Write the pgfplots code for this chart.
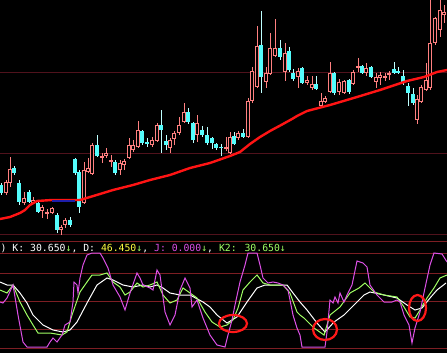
\documentclass[border=0pt]{standalone}
\usepackage{fontspec}
\usepackage{pgfplots}
\pgfplotsset{compat=1.18}
\usepackage{pgfplotstable}
\newfontfamily\kmono{DejaVu Sans Mono}
\definecolor{upc}{RGB}{255,128,128}
\definecolor{dnc}{RGB}{84,252,252}
\definecolor{dnw}{RGB}{190,255,255}
\definecolor{gridA}{RGB}{80,18,28}
\definecolor{gridB}{RGB}{125,30,35}
\definecolor{jcol}{RGB}{220,80,230}
\definecolor{kcol}{RGB}{160,255,100}
\definecolor{macol}{RGB}{255,20,20}
\definecolor{mablue}{RGB}{30,30,170}
\definecolor{txty}{RGB}{255,255,64}

% candles in pixel units: t/b body top/bottom, h/l wick top/bottom
\pgfplotstableread{
x t b h l
6 182 193 180 195
10 169 183 157 187
24 198 203 192 205
33 200 203 197 204
42 207 211 205 218
47 212 214 209 219
52 208 213 207 214
61 227 230 225 235
65 220 225 218 228
84 170 203 162 204
88 168 172 158 173
92 145 174 143 175
102 156 158 153 163
106 153 156 148 158
111 160 162 155 167
120 163 170 160 175
124 161 165 159 170
129 145 158 138 159
133 145 150 140 152
138 130 147 121 148
152 140 145 137 147
157 125 141 123 142
170 140 148 138 153
174 133 139 131 145
179 125 133 117 135
184 112 122 103 123
197 123 135 115 142
226 147 149 137 151
230 137 153 132 154
238 133 138 131 140
248 101 137 98 138
252 71 101 67 103
257 46 87 26 88
266 73 82 67 88
270 48 74 33 75
275 48 56 19 57
285 53 72 43 81
298 71 77 68 88
307 80 83 76 85
312 84 88 76 90
321 101 106 93 107
325 98 102 96 103
330 73 92 62 93
339 82 92 79 95
344 81 93 80 94
353 72 84 70 85
358 66 68 58 72
366 68 73 63 76
376 77 82 73 88
380 75 78 72 85
385 76 78 73 81
389 73 75 71 80
417 99 120 95 124
421 87 102 85 103
426 80 90 63 91
430 43 88 0 90
435 18 43 17 45
440 10 30 0 37
444 12 15 5 23
}\uptab

\pgfplotstableread{
x t b h l
1 185 193 183 195
14 168 173 166 175
19 183 202 180 205
29 192 202 190 203
38 203 212 202 213
57 215 230 213 233
70 220 225 217 227
75 159 173 158 175
79 172 207 170 213
97 145 156 135 157
115 162 173 160 175
142 131 143 130 145
147 142 144 138 147
161 125 130 110 153
166 141 145 135 150
188 112 122 108 124
193 123 140 122 143
202 130 135 126 137
207 135 143 127 145
212 138 143 137 149
216 144 148 143 150
221 147 148 144 156
234 136 144 132 145
243 133 137 129 138
261 45 77 11 93
280 48 57 40 60
289 51 70 47 72
293 73 79 69 81
302 68 83 67 84
316 84 89 76 90
334 73 93 72 95
349 80 92 79 94
362 66 73 65 74
371 67 77 66 78
394 69 73 62 74
398 71 73 67 74
403 76 83 70 85
408 86 93 83 106
413 94 103 88 105
}\dntab

\begin{document}
\begin{tikzpicture}
\fill[black] (0,0) rectangle (447bp,353bp);
\begin{axis}[at={(0,0)}, anchor=south west, scale only axis,
  width=447bp, height=353bp, xmin=0, xmax=447, ymin=0, ymax=353,
  y dir=reverse, axis lines=none, ticks=none, clip=true]

% grid lines
\foreach \yy in {72,153,234}{
  \edef\tmp{\noexpand\draw[gridA, line width=1bp] (axis cs:0,\yy) -- (axis cs:447,\yy);}\tmp}
\foreach \yy in {241,253,273,301,329,348}{
  \edef\tmp{\noexpand\draw[gridB, line width=1bp] (axis cs:0,\yy) -- (axis cs:447,\yy);}\tmp}

% down candles (cyan filled)
\addplot[draw=none, mark=none, forget plot, error bars/.cd, y dir=plus, y explicit, error mark=none,
  error bar style={draw=dnw, line width=1bp}]
  table[x=x, y=h, y error plus expr=\thisrow{l}-\thisrow{h}] {\dntab};
\addplot[draw=none, mark=none, forget plot, error bars/.cd, y dir=plus, y explicit, error mark=none,
  error bar style={draw=dnc, line width=3.4bp}]
  table[x=x, y=t, y error plus expr={max(\thisrow{b}-\thisrow{t},1)}] {\dntab};

% up candles (pink hollow)
\addplot[draw=none, mark=none, forget plot, error bars/.cd, y dir=plus, y explicit, error mark=none,
  error bar style={draw=upc, line width=1bp}]
  table[x=x, y=h, y error plus expr=\thisrow{l}-\thisrow{h}] {\uptab};
\addplot[draw=none, mark=none, forget plot, error bars/.cd, y dir=plus, y explicit, error mark=none,
  error bar style={draw=upc, line width=3.4bp}]
  table[x=x, y=t, y error plus expr={max(\thisrow{b}-\thisrow{t},1)}] {\uptab};
\addplot[draw=none, mark=none, forget plot, error bars/.cd, y dir=plus, y explicit, error mark=none,
  error bar style={draw=black, line width=1.4bp}]
  table[x=x, y expr=\thisrow{t}+1, y error plus expr={max(\thisrow{b}-\thisrow{t}-2,0)}] {\uptab};

% moving average
\addplot[macol, line width=2.4bp, mark=none] coordinates {
(0,219)(10,217)(20,213)(25,210)(30,205)(37,201)(52,200)(75,200)(80,200)(90,197)(100,194)
(113,190)(133,185)(150,180)(170,175)(190,168)(210,163)(230,156)(240,152)(250,144)(260,137)
(270,131)(283,124)(292,119)(297,116)(307,111)(330,105)(357,97)(380,90)(407,81)(424,77)(437,72)(447,70)};
\addplot[mablue, line width=2.2bp, mark=none] coordinates {(52,201)(75,201)};

% KDJ lines
\addplot[white, line width=1bp, mark=none] coordinates {
(0,282)(7,285)(13,285)(20,293)(27,303)(33,315)(43,325)(53,330)(63,332)(70,330)(77,322)(87,303)
(97,285)(107,278)(113,280)(123,285)(133,287)(143,285)(150,287)(157,285)(163,288)(170,293)(180,295)
(190,295)(203,302)(210,307)(217,315)(227,323)(237,317)(247,302)(257,288)(265,285)(277,285)(287,285)
(293,293)(300,302)(307,310)(317,323)(325,332)(334,322)(344,315)(354,305)(364,295)(370,292)(384,295)
(397,298)(407,305)(415,310)(422,308)(430,298)(437,290)(446,283)};
\addplot[kcol, line width=1bp, mark=none] coordinates {
(0,290)(7,293)(13,285)(20,302)(27,315)(33,325)(38,333)(50,333)(62,335)(67,332)(72,315)(80,292)
(87,282)(92,275)(100,275)(107,273)(113,282)(120,287)(125,295)(130,292)(137,283)(143,287)(150,285)
(157,282)(163,295)(170,303)(177,300)(183,288)(190,293)(197,298)(205,312)(212,322)(220,327)(227,325)
(233,320)(238,308)(243,290)(250,282)(257,275)(263,283)(270,285)(283,285)(290,293)(297,312)(300,315)
(304,318)(314,328)(324,335)(330,315)(340,307)(350,293)(359,288)(365,283)(374,292)(384,295)(397,297)
(404,307)(410,317)(415,318)(420,310)(427,298)(434,288)(440,278)(447,275)};
\addplot[jcol, line width=1bp, mark=none] coordinates {
(0,302)(3,303)(7,298)(13,285)(18,315)(23,342)(27,347)(47,347)(50,342)(53,338)(57,342)(62,335)
(65,325)(70,322)(73,302)(74,282)(77,285)(78,293)(80,278)(83,265)(87,255)(92,253)(100,253)(103,258)
(108,268)(113,285)(120,297)(125,310)(130,293)(137,273)(140,278)(143,285)(150,288)(153,290)(157,270)
(160,275)(165,312)(170,325)(175,315)(180,290)(185,278)(190,288)(192,307)(197,300)(203,318)(210,335)
(217,345)(225,347)(228,335)(232,320)(235,305)(240,282)(245,265)(248,253)(257,253)(260,265)(263,278)
(268,283)(273,282)(278,283)(283,285)(288,290)(293,315)(297,328)(300,335)(302,347)(325,347)(327,332)
(330,300)(333,303)(335,297)(338,303)(340,293)(344,302)(347,295)(352,285)(357,261)(363,263)(367,267)
(370,285)(377,295)(384,302)(392,302)(397,300)(400,302)(404,315)(409,325)(412,343)(415,328)(420,312)
(425,288)(430,265)(434,253)(442,254)(447,262)};

% annotations
\draw[red!90!white, line width=2.2bp] (axis cs:233,323.5) ellipse [x radius=14bp, y radius=8.5bp];
\draw[red!90!white, line width=2.2bp] (axis cs:325,329.5) ellipse [x radius=12bp, y radius=10.5bp];
\draw[red!90!white, line width=2.2bp] (axis cs:417.5,308) ellipse [x radius=8.5bp, y radius=13bp];

\node[anchor=base west, inner sep=0pt, font=\kmono\fontsize{9.8bp}{10bp}\selectfont]
  at (axis cs:0.5,251) {\textcolor{white}{) K: 30.650}\textcolor{kcol}{↓}\textcolor{white}{, D: }\textcolor{txty}{46.450}\textcolor{kcol}{↓}\textcolor{white}{, }\textcolor{jcol}{J: 0.000}\textcolor{kcol}{↓}\textcolor{white}{, }\textcolor{kcol}{K2: 30.650↓}};
\end{axis}
\end{tikzpicture}
\end{document}
